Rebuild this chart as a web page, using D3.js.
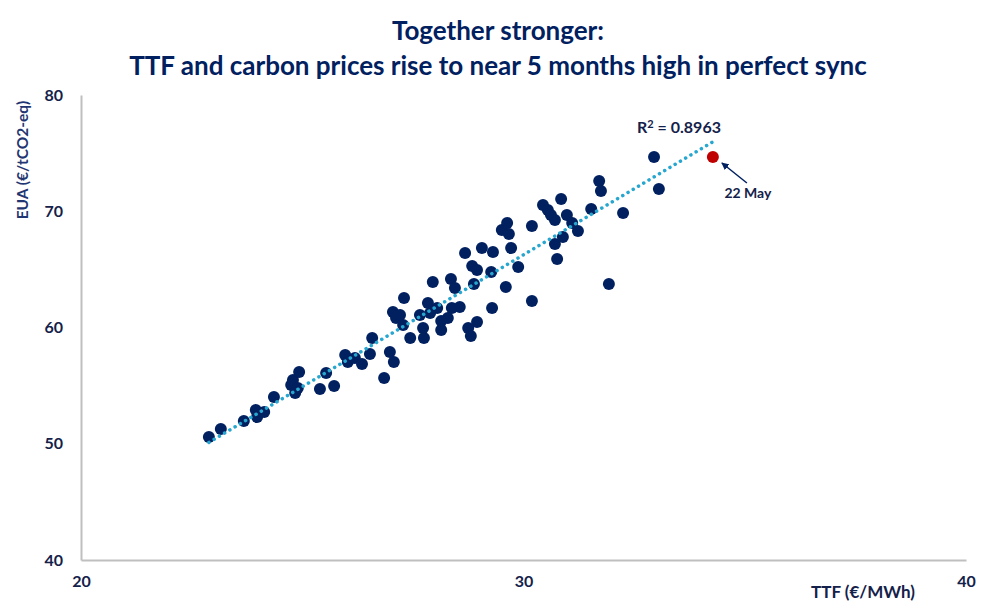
<!DOCTYPE html>
<html>
<head>
<meta charset="utf-8">
<script src="https://cdn.jsdelivr.net/npm/d3@7"></script>
<style>
	body { margin: 0; background: #fff; }
	text { font-family: Lato, "Open Sans", sans-serif; font-weight: bold; }
</style>
</head>
<body>
<div id="chart"></div>
<script>
// TTF (€/MWh) vs EUA (€/tCO2-eq), daily points
var ttfValues = [22.89, 23.16, 23.68, 23.95, 23.98, 24.14, 24.36, 24.75, 24.79, 24.84,
	24.90, 24.93, 25.40, 25.54, 25.72, 25.97, 26.03, 26.19, 26.35, 26.53,
	26.58, 26.85, 26.98, 27.07, 27.05, 27.12, 27.21, 27.28, 27.30, 27.44,
	27.66, 27.73, 27.75, 27.84, 27.89, 27.95, 28.05, 28.14, 28.29, 28.14,
	28.38, 28.56, 28.36, 28.45, 28.68, 28.84, 28.95, 28.88, 28.75, 28.81,
	28.95, 29.06, 29.31, 29.27, 29.29, 29.60, 29.51, 29.63, 29.67, 29.72,
	29.88, 30.19, 30.19, 30.44, 30.55, 30.62, 30.71, 30.85, 30.98, 31.10,
	31.23, 30.89, 30.71, 30.76, 31.53, 31.71, 31.75, 32.25, 31.93, 32.95,
	33.06];
var euaValues = [50.58, 51.27, 51.96, 52.90, 52.30, 52.73, 54.02, 55.05, 55.48, 54.37,
	54.80, 56.17, 54.71, 56.09, 54.97, 57.63, 57.03, 57.38, 56.86, 57.72,
	59.10, 55.66, 57.89, 57.03, 61.33, 60.82, 61.08, 60.22, 62.54, 59.10,
	61.08, 59.96, 59.10, 62.11, 61.25, 63.91, 61.68, 60.56, 60.82, 59.78,
	61.68, 61.76, 64.17, 63.40, 66.41, 65.29, 64.95, 63.74, 59.96, 59.27,
	60.47, 66.84, 66.49, 64.77, 61.68, 63.48, 68.39, 68.99, 68.04, 66.84,
	65.20, 68.73, 62.28, 70.54, 70.11, 69.68, 69.25, 71.05, 69.68, 68.99,
	68.30, 67.78, 67.18, 65.89, 70.19, 72.60, 71.74, 69.85, 63.74, 74.67,
	71.91];
// latest observation (highlighted)
var lastTtf = 34.28, lastEua = 74.67, lastLabel = "22 May";

var xTicks = [20, 30, 40],
	yTicks = [40, 50, 60, 70, 80];
var titleLines = ["Together stronger:", "TTF and carbon prices rise to near 5 months high in perfect sync"];
var xLabel = "TTF (€/MWh)",
	yLabel = "EUA (€/tCO2-eq)",
	r2Text = "0.8963";

var width = 990, height = 608;
var navy = "#002060", textNavy = "#14214a";

var svg = d3.select("#chart").append("svg")
	.attr("width", width)
	.attr("height", height);

var x = d3.scaleLinear().domain([20, 40]).range([81, 966]);
var y = d3.scaleLinear().domain([40, 80]).range([560, 95]);

// title
svg.selectAll(".title").data(titleLines).enter().append("text")
	.attr("class", "title")
	.attr("x", 498)
	.attr("y", (d, i) => 40 + i * 35)
	.attr("text-anchor", "middle")
	.attr("fill", navy)
	.style("font-size", "26px")
	.text(d => d);

// axes
var yAxis = d3.axisLeft(y).tickValues(yTicks).tickSize(0).tickPadding(18);
var xAxis = d3.axisBottom(x).tickValues(xTicks).tickSize(0).tickPadding(16);

var gy = svg.append("g").attr("transform", "translate(" + x(20) + ",0)").call(yAxis);
var gx = svg.append("g").attr("transform", "translate(0," + y(40) + ")").call(xAxis);
[gx, gy].forEach(function(g) {
	g.select(".domain").attr("stroke", "#bfbfbf").attr("stroke-width", 2);
	g.selectAll("text")
		.attr("fill", textNavy)
		.style("font-size", "16px")
		.style("font-family", "Lato, sans-serif")
		.style("font-weight", "bold");
});

svg.append("text")
	.attr("transform", "translate(28,160) rotate(-90)")
	.attr("text-anchor", "middle")
	.attr("fill", "#1f3672")
	.style("font-size", "15.5px")
	.text(yLabel);

svg.append("text")
	.attr("x", 863)
	.attr("y", 598)
	.attr("text-anchor", "middle")
	.attr("fill", textNavy)
	.style("font-size", "17px")
	.text(xLabel);

// points
var data = ttfValues.map((d, i) => ({x: d, y: euaValues[i]}));
var all = data.concat([{x: lastTtf, y: lastEua}]);

svg.append("g").selectAll("circle").data(data).enter().append("circle")
	.attr("cx", d => x(d.x))
	.attr("cy", d => y(d.y))
	.attr("r", 6)
	.attr("fill", navy);

// linear trend (least squares over all points)
var mx = d3.mean(all, d => d.x), my = d3.mean(all, d => d.y);
var slope = d3.sum(all, d => (d.x - mx) * (d.y - my)) / d3.sum(all, d => (d.x - mx) * (d.x - mx));
var icpt = my - slope * mx;
var xr = d3.extent(all, d => d.x);

svg.append("line")
	.attr("x1", x(xr[0])).attr("y1", y(icpt + slope * xr[0]))
	.attr("x2", x(xr[1])).attr("y2", y(icpt + slope * xr[1]))
	.attr("stroke", "#27a7cf")
	.attr("stroke-width", 3.5)
	.attr("stroke-linecap", "round")
	.attr("stroke-dasharray", "0.1,6");

svg.append("text")
	.attr("x", 679)
	.attr("y", 133)
	.attr("text-anchor", "middle")
	.attr("fill", textNavy)
	.style("font-size", "16px")
	.html("R<tspan dy='-5' style='font-size:11px'>2</tspan><tspan dy='5'> = " + r2Text + "</tspan>");

// last point + annotation
svg.append("circle")
	.attr("cx", x(lastTtf))
	.attr("cy", y(lastEua))
	.attr("r", 6)
	.attr("fill", "#c00000");

svg.append("defs").append("marker")
	.attr("id", "arr")
	.attr("viewBox", "0 0 10 10")
	.attr("refX", 9).attr("refY", 5)
	.attr("markerWidth", 5).attr("markerHeight", 5)
	.attr("orient", "auto")
	.append("path").attr("d", "M0,0L10,5L0,10z").attr("fill", navy);

svg.append("line")
	.attr("x1", x(lastTtf) + 34).attr("y1", y(lastEua) + 26)
	.attr("x2", x(lastTtf) + 9).attr("y2", y(lastEua) + 6)
	.attr("stroke", navy)
	.attr("stroke-width", 1.5)
	.attr("marker-end", "url(#arr)");

svg.append("text")
	.attr("x", x(lastTtf) + 35)
	.attr("y", y(lastEua) + 41)
	.attr("text-anchor", "middle")
	.attr("fill", textNavy)
	.style("font-size", "14px")
	.text(lastLabel);
</script>
</body>
</html>
